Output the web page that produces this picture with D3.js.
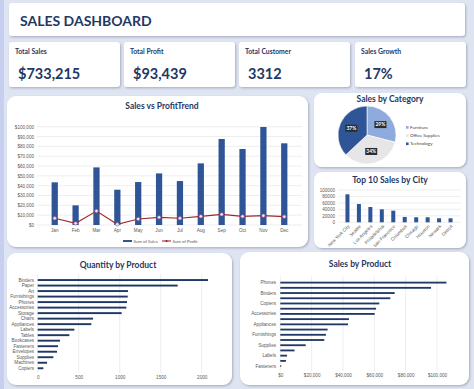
<!DOCTYPE html>
<html>
<head>
<meta charset="utf-8">
<script src="https://cdn.jsdelivr.net/npm/d3@7"></script>
<style>
  html, body { margin: 0; padding: 0; background: #dfe4f2; }
  svg { display: block; font-family: Lato, "Open Sans", sans-serif; }
  .axis text { fill: #595959; font-size: 4.6px; }
  .axis path, .axis line { display: none; }
  .grid line { stroke: #e3e3e3; stroke-width: 0.6; }
  .card-title { fill: #1f3864; font-weight: 700; font-size: 8.5px; text-anchor: middle; }
</style>
</head>
<body>
<svg id="dash" width="474" height="389"></svg>
<script>
// KPI tiles
const kpiLabels = ['Total Sales', 'Total Profit', 'Total Customer', 'Sales Growth'];
const kpiValues = ['$733,215', '$93,439', '3312', '17%'];

// Sales vs Profit trend
const months = ['Jan', 'Feb', 'Mar', 'Apr', 'May', 'Jun', 'Jul', 'Aug', 'Sep', 'Oct', 'Nov', 'Dec'];
const monthSales = [43400, 20000, 58600, 35900, 43700, 52500, 44700, 62700, 87500, 77300, 99700, 83100];
const monthProfit = [6800, 1700, 14200, 700, 6100, 7800, 6800, 8800, 10800, 8800, 9500, 8500];

// Sales by category
const categories = ['Furniture', 'Office Supplies', 'Technology'];
const categoryShare = [29, 34, 37];

// Top 10 cities
const cities = ['New York City', 'Seattle', 'Los Angeles', 'Philadelphia', 'San Francisco',
  'Columbus', 'Chicago', 'Houston', 'Newark', 'Detroit'];
const citySales = [86600, 56700, 47400, 40200, 36000, 16500, 15500, 15500, 12400, 12400];

// Quantity by product
const qtyProducts = ['Binders', 'Paper', 'Art', 'Furnishings', 'Phones', 'Accessories', 'Storage', 'Chairs',
  'Appliances', 'Labels', 'Tables', 'Bookcases', 'Fasteners', 'Envelopes', 'Supplies', 'Machines', 'Copiers'];
const qtyValues = [2077, 1707, 1102, 1098, 1089, 1081, 1024, 675, 654, 447, 386, 272, 248, 236, 191, 114, 69];

// Sales by product
const salesProducts = ['Phones', 'Chairs', 'Binders', 'Storage', 'Copiers', 'Tables', 'Accessories', 'Machines',
  'Appliances', 'Bookcases', 'Furnishings', 'Paper', 'Supplies', 'Art', 'Labels', 'Envelopes', 'Fasteners'];
const salesValues = [106000, 96200, 73000, 70200, 63200, 61100, 60200, 43800, 43200, 30200, 29100, 28100, 16200, 9100, 4300, 3600, 600];

const navy = '#1f3864';
const barBlue = '#2f5597';

const svg = d3.select('#dash');

// drop shadow for the cards
const defs = svg.append('defs');
const f = defs.append('filter').attr('id', 'shadow').attr('x', '-5%').attr('y', '-5%').attr('width', '115%').attr('height', '120%');
f.append('feDropShadow').attr('dx', 1).attr('dy', 1.2).attr('stdDeviation', 1).attr('flood-color', '#7a7f90').attr('flood-opacity', 0.55);

// left strip
svg.append('rect').attr('x', 0).attr('y', 0).attr('width', 4).attr('height', 389).attr('fill', '#c7cff0');

function card(x, y, w, h, r) {
  svg.append('rect').attr('x', x).attr('y', y).attr('width', w).attr('height', h)
    .attr('rx', r).attr('fill', '#fff').attr('filter', 'url(#shadow)');
}

// title
card(9, 3, 456, 33, 3);
svg.append('text').attr('x', 20).attr('y', 26).attr('fill', navy)
  .attr('font-weight', 700).attr('font-size', 14).text('SALES DASHBOARD');

// KPI cards
const kpiX = [9, 124, 239, 355];
kpiLabels.forEach((lab, i) => {
  card(kpiX[i], 42, 111, 45, 3);
  svg.append('text').attr('x', kpiX[i] + 6).attr('y', 54).attr('fill', navy)
    .attr('font-weight', 700).attr('font-size', 6.8).text(lab);
  svg.append('text').attr('x', kpiX[i] + 9).attr('y', 79).attr('fill', navy)
    .attr('font-weight', 700).attr('font-size', 14.5).text(kpiValues[i]);
});

// ---------- Sales vs Profit trend ----------
card(7, 96, 301, 151, 9);
svg.append('text').attr('class', 'card-title').attr('x', 162).attr('y', 109).text('Sales vs ProfitTrend');

const tx = d3.scaleBand().domain(months).range([37, 302]).padding(0.7);
const ty = d3.scaleLinear().domain([0, 100000]).range([225, 126.7]);

svg.append('g').attr('class', 'grid')
  .selectAll('line').data(ty.ticks(10)).join('line')
  .attr('x1', 37).attr('x2', 302).attr('y1', d => ty(d)).attr('y2', d => ty(d));

svg.append('g').attr('class', 'axis').attr('transform', 'translate(37,0)')
  .call(d3.axisLeft(ty).ticks(10).tickSize(0).tickPadding(3).tickFormat(d => '$' + d3.format(',')(d)));
svg.append('g').attr('class', 'axis').attr('transform', 'translate(0,225)')
  .call(d3.axisBottom(tx).tickSize(0).tickPadding(4));

svg.append('g').selectAll('rect').data(months).join('rect')
  .attr('x', d => tx(d)).attr('width', tx.bandwidth())
  .attr('y', (d, i) => ty(monthSales[i])).attr('height', (d, i) => ty(0) - ty(monthSales[i]))
  .attr('fill', barBlue);

const profitLine = d3.line()
  .x((d, i) => tx(months[i]) + tx.bandwidth() / 2)
  .y(d => ty(d));
svg.append('path').datum(monthProfit).attr('d', profitLine)
  .attr('fill', 'none').attr('stroke', '#9c2a2e').attr('stroke-width', 1.1);
svg.append('g').selectAll('circle').data(monthProfit).join('circle')
  .attr('cx', (d, i) => tx(months[i]) + tx.bandwidth() / 2).attr('cy', d => ty(d))
  .attr('r', 1.7).attr('fill', '#f4eef6').attr('stroke', '#8e5a8f').attr('stroke-width', 0.7);

// legend
const lg = svg.append('g').attr('transform', 'translate(0,241)');
lg.append('line').attr('x1', 123).attr('x2', 132).attr('stroke', barBlue).attr('stroke-width', 2);
lg.append('text').attr('x', 133.5).attr('y', 1.5).attr('fill', '#595959').attr('font-size', 4.4).text('Sum of Sales');
lg.append('line').attr('x1', 162).attr('x2', 171).attr('stroke', '#9c2a2e').attr('stroke-width', 1.1);
lg.append('circle').attr('cx', 166.5).attr('r', 1.1).attr('fill', '#9c2a2e');
lg.append('text').attr('x', 172.5).attr('y', 1.5).attr('fill', '#595959').attr('font-size', 4.4).text('Sum of Profit');

// ---------- Sales by Category ----------
card(314, 93, 152, 74, 8);
svg.append('text').attr('class', 'card-title').attr('x', 390).attr('y', 102).text('Sales by Category');

const pieColors = d3.scaleOrdinal().domain(categories).range(['#8faadc', '#e6e6e9', '#2f5597']);
const pieData = d3.pie().sort(null)(categoryShare);
const arc = d3.arc().innerRadius(0).outerRadius(29);
const labelArc = d3.arc().innerRadius(17).outerRadius(17);
const pg = svg.append('g').attr('transform', 'translate(367,135)');
pg.selectAll('path').data(pieData).join('path')
  .attr('d', arc).attr('fill', (d, i) => pieColors(categories[i]))
  .attr('stroke', '#fff').attr('stroke-width', 0.6);
pieData.forEach((d, i) => {
  const [cx, cy] = labelArc.centroid(d);
  pg.append('rect').attr('x', cx - 6).attr('y', cy - 3.5).attr('width', 12).attr('height', 7).attr('fill', '#2b2b2b');
  pg.append('text').attr('x', cx).attr('y', cy + 1.8).attr('text-anchor', 'middle')
    .attr('fill', '#fff').attr('font-weight', 700).attr('font-size', 5).text(categoryShare[i] + '%');
});
categories.forEach((c, i) => {
  const y = 127.5 + i * 8.2;
  svg.append('rect').attr('x', 406).attr('y', y - 1.4).attr('width', 2.6).attr('height', 2.6).attr('fill', pieColors(c));
  svg.append('text').attr('x', 410).attr('y', y + 1.4).attr('fill', '#404040').attr('font-size', 4.5).text(c);
});

// ---------- Top 10 Sales by City ----------
card(314, 172, 152, 76, 8);
svg.append('text').attr('class', 'card-title').attr('x', 390).attr('y', 183).text('Top 10 Sales by City');

const cx = d3.scaleBand().domain(cities).range([338, 460]).padding(0.65);
const cy = d3.scaleLinear().domain([0, 100000]).range([222.3, 190]);
svg.append('g').attr('class', 'grid')
  .selectAll('line').data(cy.ticks(5)).join('line')
  .attr('x1', 338).attr('x2', 461).attr('y1', d => cy(d)).attr('y2', d => cy(d));
svg.append('g').attr('class', 'axis').attr('transform', 'translate(338,0)')
  .call(d3.axisLeft(cy).ticks(5).tickSize(0).tickPadding(3).tickFormat(d3.format('d')));
svg.append('g').selectAll('rect').data(cities).join('rect')
  .attr('x', d => cx(d)).attr('width', cx.bandwidth())
  .attr('y', (d, i) => cy(citySales[i])).attr('height', (d, i) => cy(0) - cy(citySales[i]))
  .attr('fill', barBlue);
svg.append('g').attr('class', 'axis').attr('transform', 'translate(0,222.3)')
  .call(d3.axisBottom(cx).tickSize(0).tickPadding(2))
  .selectAll('text')
  .attr('text-anchor', 'end').attr('dy', 0)
  .attr('transform', 'translate(1,3) rotate(-45)');

// ---------- Quantity by Product ----------
card(7, 253, 225, 132, 9);
svg.append('text').attr('class', 'card-title').attr('x', 118).attr('y', 268).text('Quantity by Product');

const qx = d3.scaleLinear().domain([0, 2000]).range([37.7, 201.7]);
const qy = d3.scaleBand().domain(qtyProducts).range([275.5, 372.8]).padding(0.65);
svg.append('g').attr('class', 'grid')
  .selectAll('line').data(qx.ticks(4)).join('line')
  .attr('x1', d => qx(d)).attr('x2', d => qx(d)).attr('y1', 274).attr('y2', 373);
svg.append('g').attr('class', 'axis').attr('transform', 'translate(0,373)')
  .call(d3.axisBottom(qx).ticks(4).tickSize(0).tickPadding(3).tickFormat(d3.format('d')));
svg.append('g').attr('class', 'axis').attr('transform', 'translate(37,0)')
  .call(d3.axisLeft(qy).tickSize(0).tickPadding(3));
svg.append('g').selectAll('rect').data(qtyProducts).join('rect')
  .attr('x', qx(0)).attr('y', d => qy(d))
  .attr('width', (d, i) => qx(qtyValues[i]) - qx(0)).attr('height', qy.bandwidth())
  .attr('fill', '#203864');

// ---------- Sales by Product ----------
card(240, 252, 229, 133, 9);
svg.append('text').attr('class', 'card-title').attr('x', 360).attr('y', 267).text('Sales by Product');

const sx = d3.scaleLinear().domain([0, 100000]).range([280.3, 437]);
const sy = d3.scaleBand().domain(salesProducts).range([278.3, 370.4]).padding(0.65);
svg.append('g').attr('class', 'grid')
  .selectAll('line').data(sx.ticks(5)).join('line')
  .attr('x1', d => sx(d)).attr('x2', d => sx(d)).attr('y1', 276).attr('y2', 371);
svg.append('g').attr('class', 'axis').attr('transform', 'translate(0,371)')
  .call(d3.axisBottom(sx).ticks(5).tickSize(0).tickPadding(3).tickFormat(d => '$' + d3.format(',')(d)));
svg.append('g').attr('class', 'axis').attr('transform', 'translate(279,0)')
  .call(d3.axisLeft(sy).tickSize(0).tickPadding(3)
    .tickValues(salesProducts.filter((d, i) => i % 2 === 0)));
svg.append('g').selectAll('rect').data(salesProducts).join('rect')
  .attr('x', sx(0)).attr('y', d => sy(d))
  .attr('width', (d, i) => sx(salesValues[i]) - sx(0)).attr('height', sy.bandwidth())
  .attr('fill', '#203864');
</script>
</body>
</html>
